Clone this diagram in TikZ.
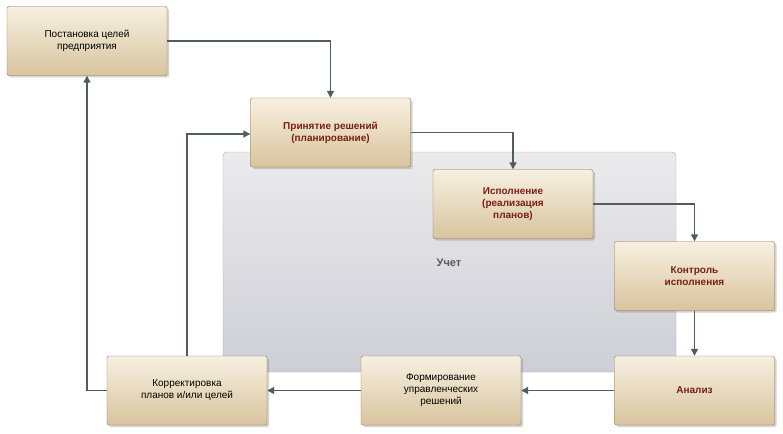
\documentclass[tikz,border=0pt]{standalone}
\usepackage{fontspec}
\setmainfont{Liberation Sans}
\usetikzlibrary{arrows.meta,shadows}
\definecolor{boxline}{HTML}{8C6E4C}
\definecolor{boxtop}{HTML}{F7F0E0}
\definecolor{boxbot}{HTML}{D8C49E}
\definecolor{arrowc}{HTML}{4F5E5C}
\definecolor{redtxt}{HTML}{7A1E14}
\tikzset{
  stage/.style={draw=boxline, rounded corners=2pt, top color=boxtop, bottom color=boxbot,
    minimum width=160pt, minimum height=69pt, align=center, font=\fontsize{10}{12}\selectfont,
    drop shadow={opacity=0.35, shadow xshift=2pt, shadow yshift=-2pt}},
  keystage/.style={stage, text=redtxt, font=\fontsize{10}{12}\selectfont\bfseries},
  flow/.style={draw=arrowc, line width=1.4pt, -{Triangle[length=7pt,width=7pt]}}
}
\begin{document}
\begin{tikzpicture}[x=1pt,y=-1pt]
  \useasboundingbox (0,0) rectangle (783,433);
  % Учет
  \node[draw=gray!70, rounded corners=4pt, top color=blue!4!gray!15, bottom color=blue!10!gray!35,
    minimum width=453pt, minimum height=220pt, inner sep=0pt] (acc) at (449.5,262) {};
  \node[font=\fontsize{11}{13}\selectfont\bfseries, text=arrowc] (acclabel) at (449,263) {Учет};
  % stages
  \node[stage] (goals) at (87,41) {Постановка целей\\предприятия};
  \node[keystage] (plan) at (330.5,132.5) {Принятие решений\\(планирование)};
  \node[keystage] (exec) at (513,204) {Исполнение\\(реализация\\планов)};
  \node[keystage] (ctrl) at (694.5,276) {Контроль\\исполнения};
  \node[keystage] (anal) at (694.5,390.5) {Анализ};
  \node[stage] (form) at (441,390.5) {Формирование\\управленческих\\решений};
  \node[stage] (corr) at (187,390.5) {Корректировка\\планов и/или целей};
  % connectors
  \draw[flow] (goals.east) -| (plan.north);
  \draw[flow] (plan.east) -| (exec.north);
  \draw[flow] (exec.east) -| (ctrl.north);
  \draw[flow] (ctrl) -- (anal);
  \draw[flow] (anal) -- (form);
  \draw[flow] (form) -- (corr);
  \draw[flow] (corr.west) -- ++(-19,0) -| (goals.south);
  \draw[flow] (corr.north) |- ([yshift=-1.5pt]plan.west);
\end{tikzpicture}
\end{document}
